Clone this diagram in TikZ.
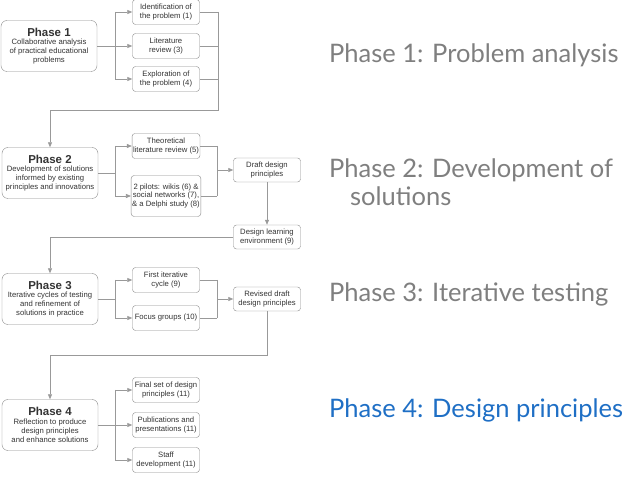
\documentclass[tikz,border=0pt]{standalone}
\usepackage{fontspec}
\setmainfont{Liberation Sans}
\newfontfamily\lato{Lato}
\usetikzlibrary{arrows.meta}
\definecolor{ln}{HTML}{999999}
\definecolor{bd}{HTML}{8A8A8A}
\definecolor{txt}{HTML}{333333}
\definecolor{hd}{HTML}{7F7F7F}
\definecolor{blu}{HTML}{1F6FC5}
\tikzset{
 phasebox/.style={draw=bd,rounded corners=6pt,minimum width=96pt,minimum height=51pt,align=center,font=\fontsize{7.7}{8.8}\selectfont,text=txt,inner sep=1pt},
 subbox/.style={draw=bd,rounded corners=3pt,minimum width=67pt,minimum height=25pt,align=center,font=\fontsize{7.7}{8.6}\selectfont,text=txt,inner sep=1pt},
 conn/.style={draw=ln,line width=0.7pt},
 arr/.style={conn,-{Triangle[length=5pt,width=4pt]}},
 heading/.style={anchor=base west,font=\lato\fontsize{25.5}{30}\selectfont,text=hd,inner sep=0pt},
}
\newcommand{\ph}[1]{{\fontsize{11.5}{12.5}\selectfont\bfseries #1}\\}
\begin{document}
\begin{tikzpicture}[x=1pt,y=-1pt]
\useasboundingbox (0,0) rectangle (638,478);
% Phase 1
\node[phasebox] (p1) at (49,46) {\ph{Phase 1}Collaborative analysis\\of practical educational\\problems};
\node[subbox] (a1) at (166,12) {Identification of\\the problem (1)};
\node[subbox] (a2) at (166,46) {Literature\\review (3)};
\node[subbox] (a3) at (166,79) {Exploration of\\the problem (4)};
% Phase 2
\node[phasebox] (p2) at (50,173) {\ph{Phase 2}Development of solutions\\informed by existing\\principles and innovations};
\node[subbox] (b1) at (166,146) {Theoretical\\literature review (5)};
\node[subbox,minimum height=41pt] (b2) at (166,196) {2 pilots: wikis (6) \&\\social networks (7),\\\& a Delphi study (8)};
\node[subbox,minimum height=24pt] (b3) at (267,170) {Draft design\\principles};
\node[subbox,minimum height=24pt] (b4) at (267,237) {Design learning\\environment (9)};
% Phase 3
\node[phasebox] (p3) at (50,299) {\ph{Phase 3}Iterative cycles of testing\\and refinement of\\solutions in practice};
\node[subbox] (c1) at (166,280) {First iterative\\cycle (9)};
\node[subbox] (c2) at (166,318) {Focus groups (10)};
\node[subbox,minimum height=24pt] (c3) at (267,299) {Revised draft\\design principles};
% Phase 4
\node[phasebox] (p4) at (50,425) {\ph{Phase 4}Reflection to produce\\design principles\\and enhance solutions};
\node[subbox] (d1) at (166,390) {Final set of design\\principles (11)};
\node[subbox] (d2) at (166,425) {Publications and\\presentations (11)};
\node[subbox] (d3) at (166,460) {Staff\\development (11)};
% connectors phase 1
\draw[conn] (p1.east) -- (115,46);
\draw[conn] (115,12) -- (115,79);
\foreach \n in {a1,a2,a3} \draw[arr] (115,0 |- \n.west) -- (\n.west);
\foreach \n in {a1,a2,a3} \draw[conn] (\n.east) -- (218,0 |- \n.east);
\draw[arr] (218,12) -- (218,110) -- (50,110) -- (p2.north);
% phase 2
\draw[conn] (p2.east) -- (115,173);
\draw[conn] (115,146) -- (115,196);
\foreach \n in {b1,b2} \draw[arr] (115,0 |- \n.west) -- (\n.west);
\foreach \n in {b1,b2} \draw[conn] (\n.east) -- (217,0 |- \n.east);
\draw[conn] (217,146) -- (217,196);
\draw[arr] (217,0 |- b3.west) -- (b3.west);
\draw[arr] (b3.south) -- (b4.north);
\draw[arr] (b4.west) -- (50,0 |- b4.west) -- (p3.north);
% phase 3
\draw[conn] (p3.east) -- (115,299);
\draw[conn] (115,280) -- (115,318);
\foreach \n in {c1,c2} \draw[arr] (115,0 |- \n.west) -- (\n.west);
\foreach \n in {c1,c2} \draw[conn] (\n.east) -- (217,0 |- \n.east);
\draw[conn] (217,280) -- (217,318);
\draw[arr] (217,0 |- c3.west) -- (c3.west);
\draw[arr] (c3.south) -- (267,355) -- (50,355) -- (p4.north);
% phase 4
\draw[conn] (p4.east) -- (115,425);
\draw[conn] (115,390) -- (115,460);
\foreach \n in {d1,d2,d3} \draw[arr] (115,0 |- \n.west) -- (\n.west);
% headings
\node[heading] (h1) at (329,63) {Phase 1: Problem analysis};
\node[heading] (h2) at (329,178) {Phase 2: Development of};
\node[heading] (h2b) at (350,206) {solutions};
\node[heading] (h3) at (329,302) {Phase 3: Iterative testing};
\node[heading,text=blu] (h4) at (329,418) {Phase 4: Design principles};
\end{tikzpicture}
\end{document}
